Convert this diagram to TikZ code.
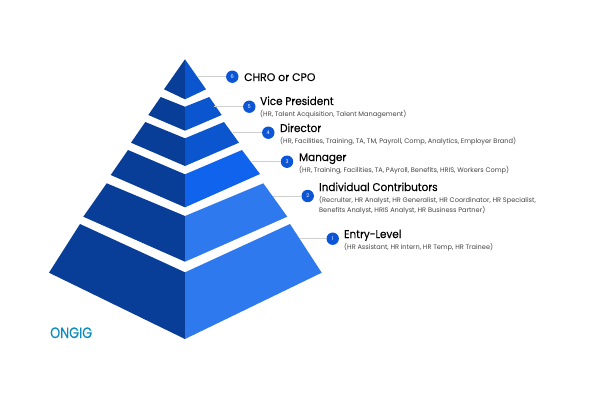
\documentclass[tikz,border=0pt]{standalone}
\usepackage{fontspec}
\setmainfont{Poppins}
\newfontfamily\titlefont[FakeBold=0.12,FakeStretch=0.93]{Poppins}
\newfontfamily\capsfont[FakeBold=0.12,FakeStretch=0.99]{Poppins}
\newfontfamily\logofont[FakeBold=0.4,FakeStretch=0.85]{Poppins}
\definecolor{darkface}{HTML}{083D98}
\definecolor{midface}{HTML}{0B55CE}
\definecolor{brightface}{HTML}{0F63EC}
\definecolor{lightface}{HTML}{2F79EF}
\definecolor{badge}{HTML}{0B55D6}
\definecolor{leader}{HTML}{CFCFCF}
\definecolor{logo}{HTML}{0A8DBE}
\definecolor{subtext}{HTML}{444444}
\tikzset{
  badgedot/.style={circle,fill=badge,draw=none,minimum size=12.4pt,inner sep=0pt,text=white,font=\fontsize{5}{5}\selectfont},
  leaderline/.style={draw=leader,line width=0.9pt},
  titletext/.style={anchor=base west,inner sep=0pt,text=black,font=\titlefont\fontsize{11.2}{12}\selectfont},
  subnote/.style={anchor=base west,inner sep=0pt,text=subtext,font=\fontsize{6.6}{7}\selectfont},
}
\begin{document}
\begin{tikzpicture}[x=1pt,y=-1pt]
\useasboundingbox (0,0) rectangle (600,400);
\fill[white] (0,0) rectangle (600,400);
% pyramid faces
\fill[darkface] (185,59.3) -- (164,89.3) -- (185,99.3) -- cycle;
\fill[midface] (185,59.3) -- (206,89.3) -- (185,99.3) -- cycle;
\fill[darkface] (185,106.7) -- (160.7,97) -- (148.3,115) -- (185,130.7) -- cycle;
\fill[midface] (185,106.7) -- (209.3,97) -- (221.7,115) -- (185,130.7) -- cycle;
\fill[darkface] (185,138.3) -- (145.3,122) -- (131,142.7) -- (185,166) -- cycle;
\fill[midface] (185,138.3) -- (224,122) -- (239,142.7) -- (185,166) -- cycle;
\fill[darkface] (185,174.3) -- (128,150) -- (110.7,175) -- (185,207.3) -- cycle;
\fill[brightface] (185,174.3) -- (242,150) -- (260,174) -- (185,207.3) -- cycle;
\fill[darkface] (185,216) -- (106.7,183.3) -- (83.3,216.7) -- (185,261.7) -- cycle;
\fill[lightface] (185,216) -- (263.3,183.3) -- (287.3,216.7) -- (185,261.7) -- cycle;
\fill[darkface] (185,272.3) -- (80,224) -- (49,272.7) -- (185,339) -- cycle;
\fill[lightface] (185,272.3) -- (290,224) -- (321.7,272.7) -- (185,339) -- cycle;
% leaders
\coordinate (s6) at (198.3,76.7);
\coordinate (s5) at (214.3,106.7);
\coordinate (s4) at (233,132.7);
\coordinate (s3) at (251.7,161.7);
\coordinate (s2) at (273.3,196);
\coordinate (s1) at (300,238.7);
\node[badgedot] (b6) at (232.3,76.7) {6};
\node[badgedot] (b5) at (249.3,106.7) {5};
\node[badgedot] (b4) at (268.3,132.7) {4};
\node[badgedot] (b3) at (287,161.7) {3};
\node[badgedot] (b2) at (307.7,196) {2};
\node[badgedot] (b1) at (332.7,238.7) {1};
\draw[leaderline] (s6) -- (b6);
\draw[leaderline] (s5) -- (b5);
\draw[leaderline] (s4) -- (b4);
\draw[leaderline] (s3) -- (b3);
\draw[leaderline] (s2) -- (b2);
\draw[leaderline] (s1) -- (b1);
% labels
\node[titletext,font=\capsfont\fontsize{11}{12}\selectfont] (t6) at (244,81) {CHRO or CPO};
\node[titletext] (t5) at (260,105) {Vice President};
\node[subnote] (n5) at (260,116.5) {(HR, Talent Acquisition, Talent Management)};
\node[titletext] (t4) at (280,132) {Director};
\node[subnote] (n4) at (280,143.5) {(HR, Facilities, Training, TA, TM, Payroll, Comp, Analytics, Employer Brand)};
\node[titletext] (t3) at (299,161) {Manager};
\node[subnote] (n3) at (299,172.5) {(HR, Training, Facilities, TA, PAyroll, Benefits, HRIS, Workers Comp)};
\node[titletext] (t2) at (319,191) {Individual Contributors};
\node[subnote] (n2a) at (319,202) {(Recruiter, HR Analyst, HR Generalist, HR Coordinator, HR Specialist,};
\node[subnote] (n2b) at (319,212) {Benefits Analyst, HRIS Analyst, HR Business Partner)};
\node[titletext] (t1) at (344,238) {Entry-Level};
\node[subnote] (n1) at (344,249) {(HR Assistant, HR Intern, HR Temp, HR Trainee)};
\node[anchor=base west,inner sep=0pt,text=logo,font=\logofont\fontsize{15}{16}\selectfont] (logo) at (50,338) {ONGIG};
\end{tikzpicture}
\end{document}
